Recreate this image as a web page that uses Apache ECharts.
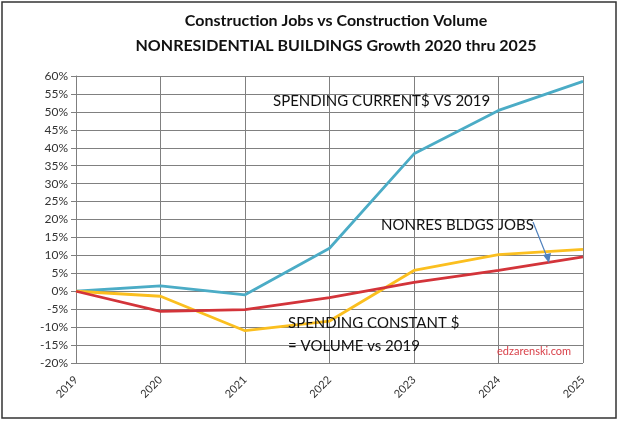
<!DOCTYPE html>
<html>
<head>
<meta charset="utf-8">
<script src="https://cdn.jsdelivr.net/npm/echarts@6/dist/echarts.min.js"></script>
<style>
  html, body { margin: 0; padding: 0; background: #fff; }
  #chart { width: 620px; height: 422px; }
</style>
</head>
<body>
<div id="chart"></div>
<script>
// years on the x axis
var years = ['2019', '2020', '2021', '2022', '2023', '2024', '2025'];
// growth vs 2019, in percent
var spendingCurrent = [0, 1.5, -1, 12, 38.3, 50.4, 58.5];
var spendingConstant = [0, -1.4, -11, -8.3, 5.8, 10.2, 11.7];
var nonresJobs = [0, -5.6, -5.1, -1.8, 2.5, 5.8, 9.6];

var font = 'Lato, "Open Sans", sans-serif';
var chart = echarts.init(document.getElementById('chart'));

var option = {
  animation: false,
  backgroundColor: '#fff',
  title: {
    text: 'Construction Jobs vs Construction Volume\nNONRESIDENTIAL BUILDINGS Growth 2020 thru 2025',
    left: 331,
    textAlign: 'center',
    top: 3,
    textStyle: {
      fontFamily: font,
      fontSize: 16,
      fontWeight: 'bold',
      color: '#111',
      lineHeight: 25
    }
  },
  grid: { left: 76, right: 37, top: 76, bottom: 59 },
  xAxis: {
    type: 'category',
    boundaryGap: false,
    data: years,
    axisLine: { lineStyle: { color: '#7f7f7f' } },
    axisTick: { show: true, alignWithLabel: true, length: 5, lineStyle: { color: '#7f7f7f' } },
    axisLabel: { rotate: 45, color: '#333', fontFamily: font, fontSize: 11, margin: 15 },
    splitLine: { show: true, lineStyle: { color: '#808080', width: 1 } }
  },
  yAxis: {
    type: 'value',
    min: -20,
    max: 60,
    interval: 5,
    axisLine: { show: true, lineStyle: { color: '#7f7f7f' } },
    axisTick: { show: true, length: 5, lineStyle: { color: '#7f7f7f' } },
    axisLabel: { formatter: '{value}%', color: '#333', fontFamily: font, fontSize: 12, margin: 8 },
    splitLine: { lineStyle: { color: '#808080', width: 1 } }
  },
  series: [
    {
      name: 'SPENDING CURRENT$ VS 2019',
      type: 'line',
      data: spendingCurrent,
      symbol: 'none',
      lineStyle: { color: '#4BACC6', width: 2.8 },
      z: 3
    },
    {
      name: 'SPENDING CONSTANT $',
      type: 'line',
      data: spendingConstant,
      symbol: 'none',
      lineStyle: { color: '#FBBF1F', width: 2.8 },
      z: 4
    },
    {
      name: 'NONRES BLDGS JOBS',
      type: 'line',
      data: nonresJobs,
      symbol: 'none',
      lineStyle: { color: '#D3343A', width: 2.8 },
      z: 5
    }
  ],
  graphic: [
    {
      type: 'rect',
      shape: { x: 2, y: 2, width: 614, height: 416 },
      style: { fill: 'none', stroke: '#333', lineWidth: 1.5 },
      silent: true
    },
    {
      type: 'text', left: 273, top: 94, z: 10,
      style: { text: 'SPENDING CURRENT$ VS 2019', fontFamily: font, fontSize: 15, fill: '#111' }
    },
    {
      type: 'text', left: 381, top: 218, z: 10,
      style: { text: 'NONRES BLDGS JOBS', fontFamily: font, fontSize: 15, fill: '#111' }
    },
    {
      type: 'text', left: 288, top: 316, z: 10,
      style: { text: 'SPENDING CONSTANT $', fontFamily: font, fontSize: 15, fill: '#111' }
    },
    {
      type: 'text', left: 288, top: 339, z: 10,
      style: { text: '= VOLUME vs 2019', fontFamily: font, fontSize: 15, fill: '#111' }
    },
    {
      type: 'text', left: 497, top: 346, z: 10,
      style: { text: 'edzarenski.com', fontFamily: font, fontSize: 11, fill: '#D9414A' }
    },
    {
      type: 'line', z: 10,
      shape: { x1: 533, y1: 222, x2: 547, y2: 257 },
      style: { stroke: '#4F81BD', lineWidth: 1.2 }
    },
    {
      type: 'polygon', z: 10,
      shape: { points: [[549, 263], [543, 255], [551, 253]] },
      style: { fill: '#4F81BD' }
    }
  ]
};

chart.setOption(option);
</script>
</body>
</html>
